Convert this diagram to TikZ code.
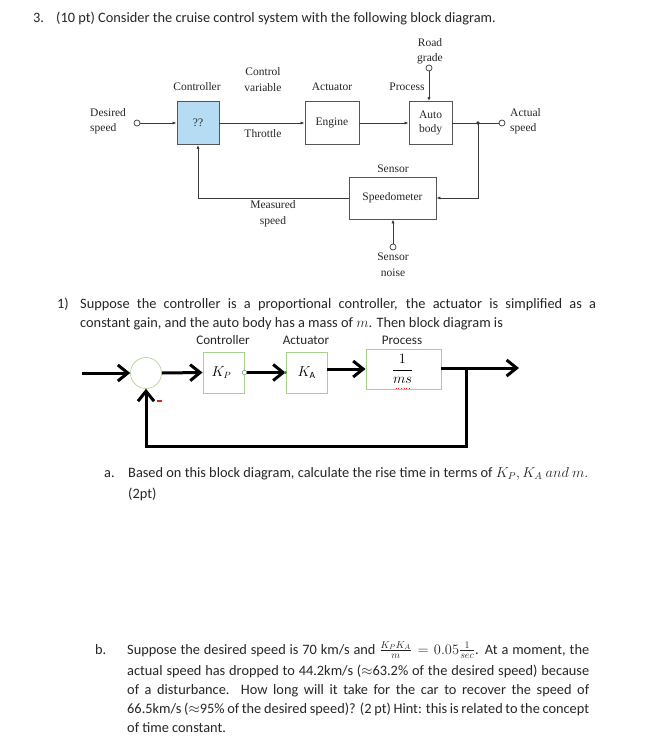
\documentclass[tikz,border=0pt]{standalone}
\usepackage{amsmath}
\usepackage{fontspec}
\setmainfont{Carlito}
\newfontfamily\tnr{Liberation Serif}
\usetikzlibrary{arrows.meta}
\definecolor{dgray}{HTML}{3A3A3A}
\definecolor{bgray}{HTML}{555555}
\definecolor{lblue}{HTML}{B5DCF2}
\definecolor{lgreen}{HTML}{A9D18E}
\definecolor{dgreen}{HTML}{3A8A2A}
\definecolor{mred}{HTML}{E02020}
\definecolor{txt}{HTML}{262626}
\begin{document}
\begin{tikzpicture}[x=1pt,y=-1pt,
  body/.style={font=\fontsize{14.35}{19.5}\selectfont, text=txt, anchor=base west, inner sep=0},
  tlab/.style={font=\tnr\fontsize{11.5}{15.5}\selectfont, text=txt, align=center, inner sep=0},
  blk/.style={draw=bgray, line width=0.9pt, inner sep=0, font=\tnr\fontsize{11.5}{14.5}\selectfont, text=txt, align=center},
  sig/.style={draw=dgray, line width=0.8pt, -{Latex[length=4pt,width=3.2pt]}},
  wire/.style={draw=dgray, line width=0.8pt},
  port/.style={circle, draw=dgray, fill=white, minimum size=6pt, inner sep=0, line width=0.7pt},
  lab2/.style={font=\fontsize{13.1}{16}\selectfont, text=txt, inner sep=0},
  gbox/.style={draw=lgreen, line width=0.9pt, inner sep=0, font=\fontsize{13.5}{16}\selectfont},
  fat/.style={line width=3pt, -{Straight Barb[length=10pt,width=16pt]}}
]
\useasboundingbox (0,0) rectangle (646,742);
\fill[white] (0,0) rectangle (646,742);

% ---- title
\node[body] (n3) at (33,22) {3.};
\node[body] (title) at (56,22) {(10 pt) Consider the cruise control system with the following block diagram.};

% ---- top diagram
\node[blk, fill=lblue, minimum width=42pt, minimum height=43pt] (ctrl) at (198,123) {??};
\node[blk, minimum width=54pt, minimum height=43pt] (eng) at (332,123) {Engine};
\node[blk, minimum width=43pt, minimum height=43pt] (auto) at (430.5,123) {Auto\\body};
\node[blk, minimum width=87pt, minimum height=42pt] (spd) at (392.5,198) {Speedometer};
\node[port] (in) at (137,123) {};
\node[port] (road) at (429,68) {};
\node[port] (out) at (502,123) {};
\node[port] (noise) at (393,247) {};
\coordinate (jn) at (478,123);

\draw[sig] (in) -- (ctrl);
\draw[sig] (ctrl) -- (eng);
\draw[sig] (eng) -- (auto);
\draw[sig] (road) -- (road |- auto.north);
\draw[wire] (auto) -- (out);
\fill[dgray] (jn) circle (1.9pt);
\draw[sig] (jn) |- (spd.east);
\draw[sig] (spd.west) -| (ctrl.south);
\draw[sig] (noise) -- (noise |- spd.south);

\node[tlab] (lroad) at (430,51) {Road\\grade};
\node[tlab] (lctrl) at (197,87) {Controller};
\node[tlab] (lcv) at (263,79.5) {Control\\variable};
\node[tlab] (lact) at (332,87) {Actuator};
\node[tlab] (lproc) at (407,87) {Process};
\node[tlab, align=left, anchor=west] (ldes) at (90,121) {Desired\\speed};
\node[tlab, align=left, anchor=west] (lout) at (510,121) {Actual\\speed};
\node[tlab] (lthr) at (263,134) {Throttle};
\node[tlab] (lsen) at (393,169) {Sensor};
\node[tlab] (lmeas) at (273,213.5) {Measured\\speed};
\node[tlab] (lnoise) at (393,264.5) {Sensor\\noise};

% ---- part 1
\node[body] (p1n) at (57,308) {1)};
\node[body] (p1a) at (80,308) {\makebox[516pt][s]{Suppose the controller is a proportional controller, the actuator is simplified as a}};
\node[body] (p1b) at (80,327.5) {constant gain, and the auto body has a mass of $m$. Then block diagram is};

\node[lab2] (l2c) at (223,340) {Controller};
\node[lab2] (l2a) at (306,340) {Actuator};
\node[lab2] (l2p) at (402,340) {Process};

\node[circle, draw=lgreen, minimum size=31pt, inner sep=0, line width=0.6pt] (sum) at (146,373) {};
\node[gbox, minimum width=41pt, minimum height=41pt] (kp) at (223.5,372.5) {$K_P$\hspace*{4pt}};
\node[gbox, minimum width=41pt, minimum height=41pt] (ka) at (306.5,372.5) {$K_{\mathrm{A}}$};
\node[gbox, minimum width=75pt, minimum height=40pt, font=\fontsize{15}{18}\selectfont] (proc) at (403.5,369) {\hspace*{-2pt}$\dfrac{1}{ms}$};
\coordinate (src) at (82,373);
\coordinate (dst) at (519,368);
\coordinate (br) at (466,368);
\coordinate (fb) at (146,446);

\draw[fat] (src) -- (sum.west);
\draw[fat] (sum.east) -- (kp.west);
\draw[fat] (kp.east) -- (ka.west);
\draw[fat] (ka.east |- proc.west) -- (proc.west);
\draw[fat] (proc.east |- dst) -- (dst);
\draw[fat] (br) |- (fb) -- (sum.south);
\node[circle, draw=gray, fill=white, minimum size=4.5pt, inner sep=0, line width=0.5pt] (kpo) at (kp.east) {};
\node[circle, fill=dgreen, minimum size=3pt, inner sep=0] (kai) at (ka.west) {};
\node[fill=mred, minimum width=5pt, minimum height=2pt, inner sep=0] (minus) at (159.5,401) {};
\draw[mred, dotted, line width=0.7pt] (395.5,388) -- (409.5,388);

% ---- part a
\node[body] (an) at (104,477) {a.};
\node[body] (a1) at (128,477) {Based on this block diagram, calculate the rise time in terms of $K_P, K_A\ and\ m.$};
\node[body] (a2) at (128,498) {(2pt)};

% ---- part b
\node[body] (bn) at (95,654) {b.};
\node[body] (b1) at (127,654) {\makebox[462pt][s]{Suppose the desired speed is 70 km/s and $\frac{K_PK_A}{m} = 0.05\frac{1}{sec}$. At a moment, the}};
\node[body] (b2) at (127,675) {\makebox[462pt][s]{actual speed has dropped to 44.2km/s ($\approx$63.2\% of the desired speed) because}};
\node[body] (b3) at (127,694) {\makebox[462pt][s]{of a disturbance. How long will it take for the car to recover the speed of}};
\node[body] (b4) at (127,713) {\makebox[462pt][s]{66.5km/s ($\approx$95\% of the desired speed)? (2 pt) Hint: this is related to the concept}};
\node[body] (b5) at (127,732) {of time constant.};
\end{tikzpicture}
\end{document}
